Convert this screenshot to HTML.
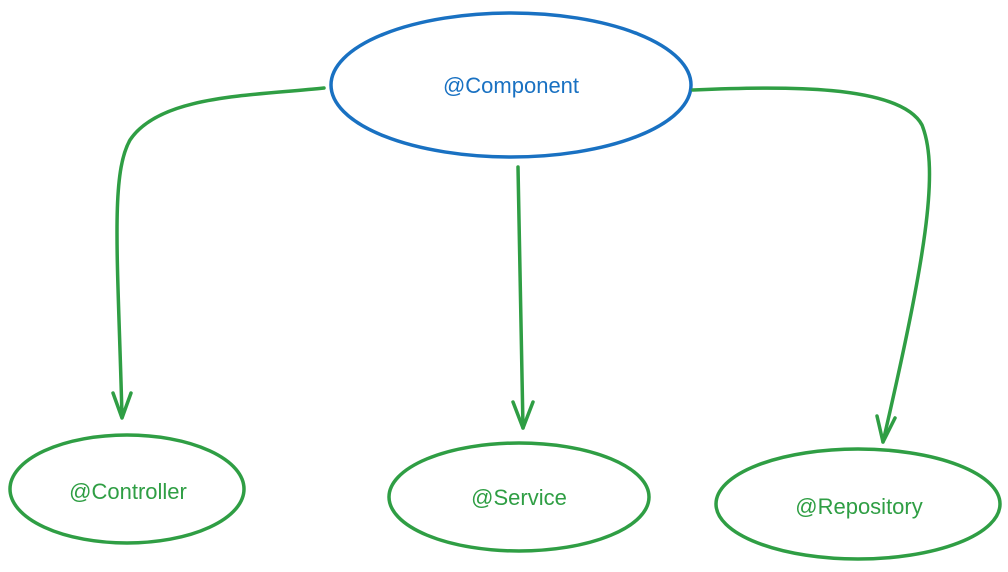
<!DOCTYPE html>
<html><head><meta charset="utf-8"><style>
html,body{margin:0;padding:0;background:#fff;width:1008px;height:572px;overflow:hidden}
text{font-family:"Liberation Sans",sans-serif;font-size:22px}
</style></head><body>
<svg width="1008" height="572" viewBox="0 0 1008 572" xmlns="http://www.w3.org/2000/svg">
<g fill="none" stroke-linecap="round" stroke-linejoin="round">
<ellipse cx="511" cy="85" rx="180" ry="72" stroke="#1971c2" stroke-width="3.5"/>
<g stroke="#2f9e44" stroke-width="3.5">
<ellipse cx="127" cy="489" rx="117" ry="54"/>
<ellipse cx="519" cy="497" rx="130" ry="54"/>
<ellipse cx="858" cy="504" rx="142" ry="55"/>
<path d="M324 88 C250 96 160 95 130 140 C110 175 118 260 122 417"/>
<path d="M113 393 L122 418 L131 393"/>
<path d="M518 167 L523 428"/>
<path d="M513 402 L523 428 L533 402"/>
<path d="M693 90 C780 86 900 84 922 125 C940 170 925 260 883 442"/>
<path d="M877 416 L883 442 L895 418"/>
</g>
</g>
<text x="511" y="93" text-anchor="middle" fill="#1971c2">@Component</text>
<text x="128" y="499" text-anchor="middle" fill="#2f9e44">@Controller</text>
<text x="519" y="505" text-anchor="middle" fill="#2f9e44">@Service</text>
<text x="859" y="514" text-anchor="middle" fill="#2f9e44">@Repository</text>
</svg>
</body></html>
